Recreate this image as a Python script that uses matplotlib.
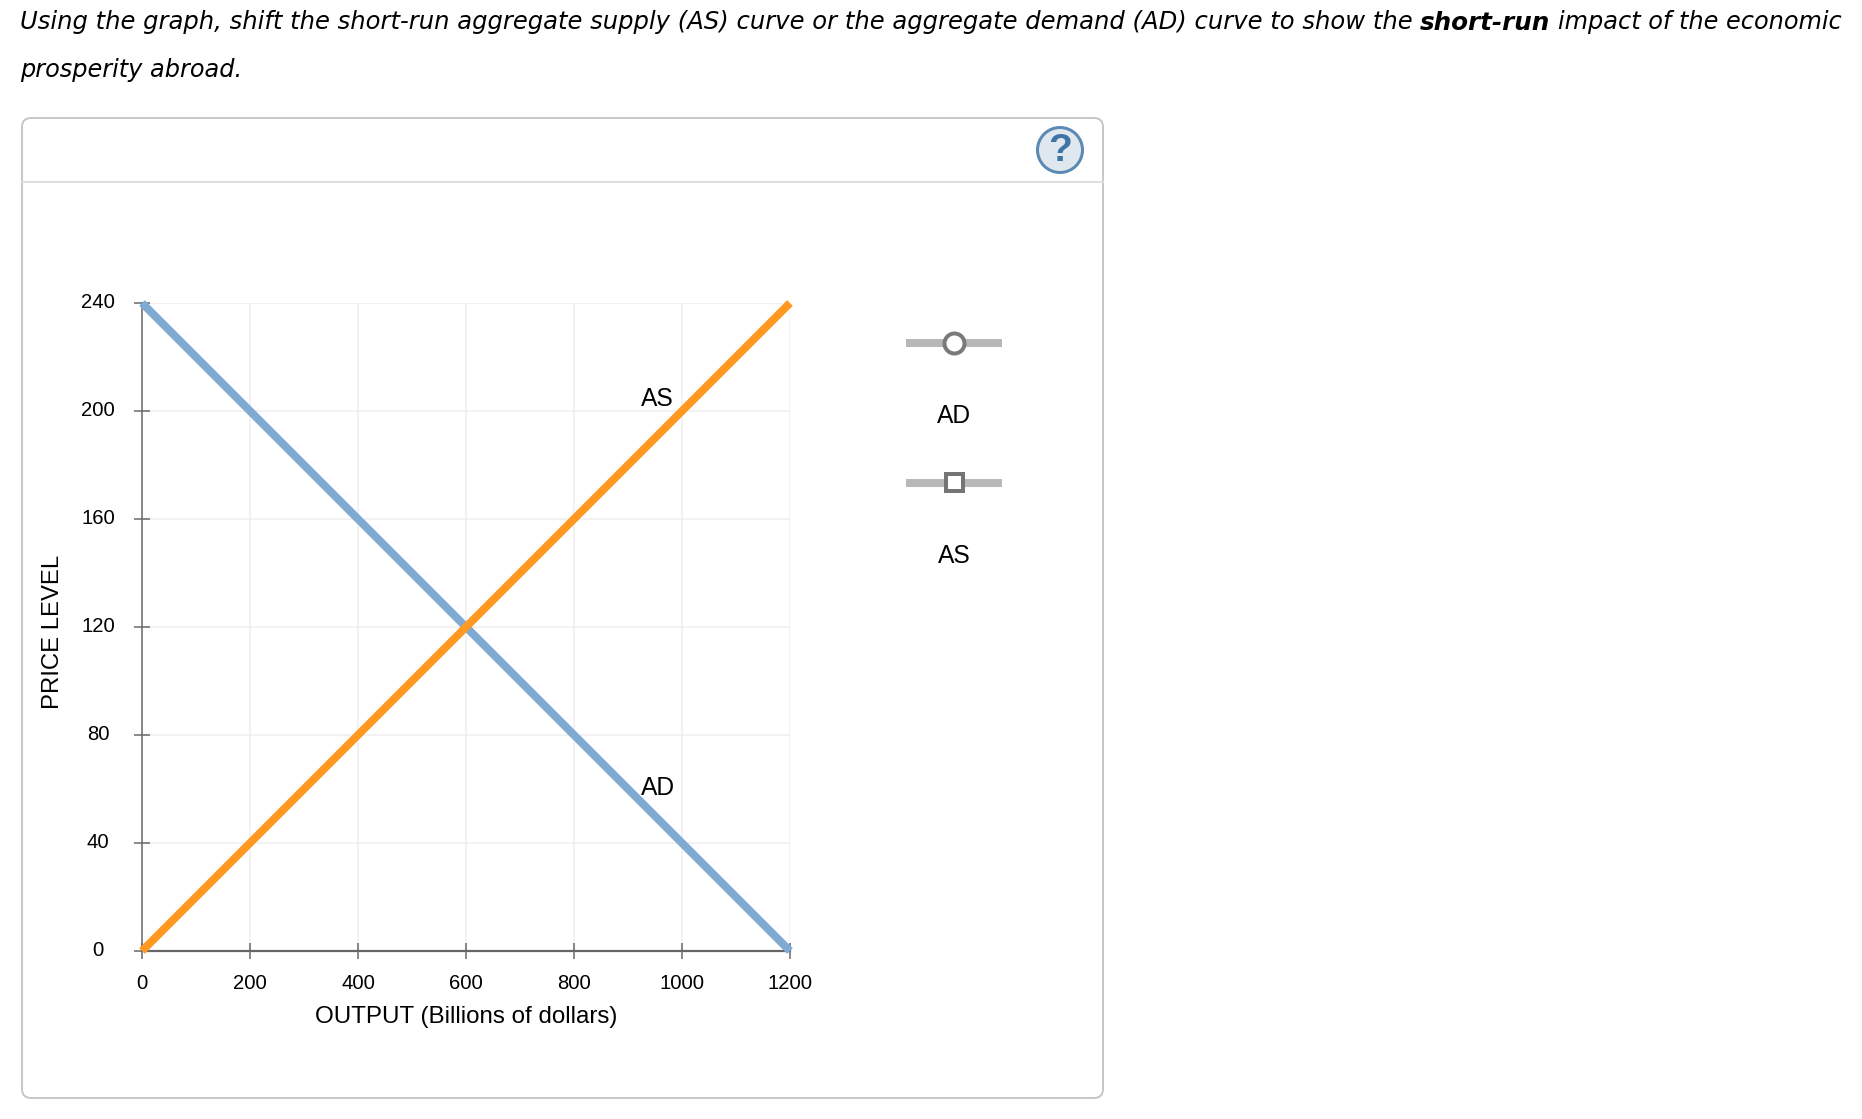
import matplotlib
matplotlib.use("Agg")
import matplotlib.pyplot as plt
from matplotlib.patches import FancyBboxPatch, Circle

# dados do grafico
output_ticks = [0, 200, 400, 600, 800, 1000, 1200]
price_ticks = [0, 40, 80, 120, 160, 200, 240]
ad_output = [0, 1200]
ad_price = [240, 0]
as_output = [0, 1200]
as_price = [0, 240]
curve_labels = ["AD", "AS"]
label_output = [955, 955]
label_price = [60.5, 204.3]

W, H = 1862, 1119
PX = 0.72  # pontos por pixel em dpi 100

plt.rcParams["font.family"] = ["Liberation Sans", "DejaVu Sans"]

fig = plt.figure(figsize=(W / 100, H / 100), dpi=100, facecolor="white")

# camada de fundo em coordenadas de pixel
bg = fig.add_axes([0, 0, 1, 1], zorder=0)
bg.set_xlim(0, W)
bg.set_ylim(H, 0)
bg.axis("off")

# enunciado
q_style = dict(family="DejaVu Sans", style="italic", va="center", ha="left", color="black")
bg.text(20, 22.5, "Using the graph, shift the short-run aggregate supply (AS) curve or the aggregate demand (AD) curve to show the",
        fontsize=17.5, **q_style)
bg.text(1420, 22.5, "short-run", weight="bold", fontsize=17.7, **q_style)
bg.text(1558, 22.5, "impact of the economic", fontsize=17.3, **q_style)
bg.text(20, 70.5, "prosperity abroad.", fontsize=17.3, **q_style)

# painel
bg.add_patch(FancyBboxPatch((22, 118), 1081, 980, boxstyle="round,pad=0,rounding_size=9",
                            fc="white", ec="#c8c8c8", lw=2 * PX))
bg.plot([22, 1103], [182, 182], color="#dddddd", lw=2 * PX)

# botao de ajuda
bg.add_patch(Circle((1060, 150), 22.5, fc="#dfe7ef", ec="#5b8ab5", lw=3 * PX))
bg.text(1060, 151, "?", ha="center", va="center", fontsize=28, weight="bold",
        family="Liberation Sans", color="#3f75a6")

# legenda lateral
bg.plot([906, 1002], [342.5, 342.5], color="#b8b8b8", lw=8 * PX, solid_capstyle="butt")
bg.plot([954], [342.5], marker="o", ms=20 * PX, mfc="white", mec="#7a7a7a", mew=4 * PX)
bg.text(954, 416, curve_labels[0], ha="center", va="center", fontsize=17.7, color="black")
bg.plot([906, 1002], [482.5, 482.5], color="#b8b8b8", lw=8 * PX, solid_capstyle="butt")
bg.plot([954], [482], marker="s", ms=17 * PX, mfc="white", mec="#757575", mew=4 * PX)
bg.text(954, 556, curve_labels[1], ha="center", va="center", fontsize=17.7, color="black")

# grafico principal
x0, x1, y_top, y_bot = 142, 790, 303, 951
ax = fig.add_axes([x0 / W, 1 - y_bot / H, (x1 - x0) / W, (y_bot - y_top) / H], zorder=1)
ax.patch.set_alpha(0)
ax.set_xlim(0, 1200)
ax.set_ylim(0, 240)
ax.set_xticks(output_ticks)
ax.set_yticks(price_ticks)
ax.grid(True, color="#eeeeee", lw=1.5 * PX)
ax.set_axisbelow(True)

for side in ["top", "right"]:
    ax.spines[side].set_visible(False)
ax.spines["left"].set_color("#666666")
ax.spines["left"].set_linewidth(1.5 * PX)
ax.spines["bottom"].set_color("#666666")
ax.spines["bottom"].set_linewidth(2.2 * PX)

ax.tick_params(axis="x", direction="inout", length=16 * PX, width=1.5 * PX, color="#666666",
               labelsize=14.6, pad=11)
ax.tick_params(axis="y", direction="inout", length=16 * PX, width=1.5 * PX, color="#666666",
               labelsize=14.6, pad=26)
for lab in ax.get_yticklabels():
    lab.set_ha("center")
    lab.set_va("center")

ax.plot(ad_output, ad_price, color="#7fabd3", lw=8 * PX, solid_capstyle="butt", clip_on=False, zorder=3)
ax.plot(as_output, as_price, color="#ff9922", lw=8 * PX, solid_capstyle="butt", clip_on=False, zorder=4)

for name, xv, yv in zip(curve_labels, label_output, label_price):
    ax.text(xv, yv, name, ha="center", va="center", fontsize=17.7, color="black", zorder=5)

# titulos dos eixos
bg.text(466.5, 1017, "OUTPUT (Billions of dollars)", ha="center", va="center", fontsize=17.4, color="black")
bg.text(53, 632, "PRICE LEVEL", ha="center", va="center", rotation=90, fontsize=17.2, color="black")

fig.savefig("out.png", dpi=100)
